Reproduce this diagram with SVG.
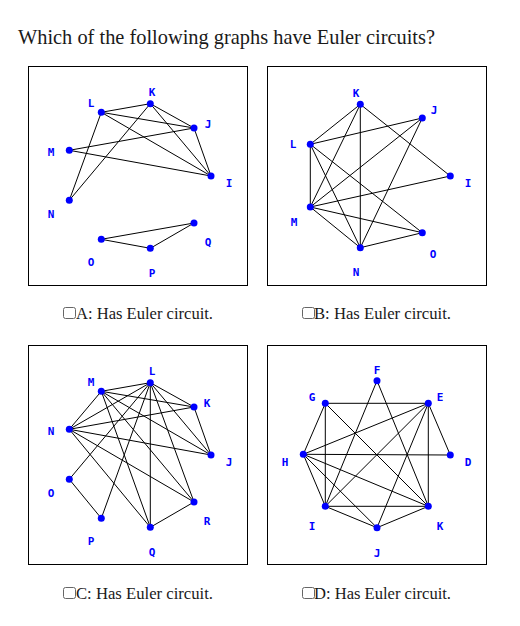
<svg xmlns="http://www.w3.org/2000/svg" width="520" height="626" viewBox="0 0 520 626">
<style>
.bg{fill:#fff}
.frame{fill:none;stroke:#000;stroke-width:1}
.e{stroke:#000;stroke-width:1;fill:none}
.n{fill:#0000ff}
.lb{font-family:"DejaVu Sans Mono",monospace;font-weight:bold;font-size:11px;fill:#0000ff;text-anchor:middle}
.title{font-family:"Liberation Serif",serif;font-size:21px;fill:#1a1a1a}
.cap{font-family:"Liberation Serif",serif;font-size:16px;fill:#1a1a1a}
.cb{fill:#fff;stroke:#666;stroke-width:1}
</style>
<rect class="bg" x="0" y="0" width="520" height="626"/>
<text class="title" x="18" y="44" textLength="417" lengthAdjust="spacingAndGlyphs">Which of the following graphs have Euler circuits?</text>

<rect class="frame" x="28.5" y="66.5" width="219" height="219"/>
<rect class="frame" x="267.5" y="66.5" width="219" height="219"/>
<rect class="frame" x="28.5" y="345.5" width="219" height="219"/>
<rect class="frame" x="267.5" y="345.5" width="219" height="219"/>

<g id="connectors">
<g id="edges-A">
<line class="e" x1="101.3" y1="112.3" x2="150.3" y2="103.7"/>
<line class="e" x1="101.3" y1="112.3" x2="194" y2="128"/>
<line class="e" x1="101.3" y1="112.3" x2="211" y2="176"/>
<line class="e" x1="101.3" y1="112.3" x2="69.3" y2="200.3"/>
<line class="e" x1="150.3" y1="103.7" x2="194" y2="128"/>
<line class="e" x1="150.3" y1="103.7" x2="211" y2="176"/>
<line class="e" x1="150.3" y1="103.7" x2="69.3" y2="200.3"/>
<line class="e" x1="69.3" y1="150.3" x2="194" y2="128"/>
<line class="e" x1="69.3" y1="150.3" x2="211" y2="176"/>
<line class="e" x1="194" y1="128" x2="211" y2="176"/>
<line class="e" x1="101.3" y1="239.3" x2="194" y2="223"/>
<line class="e" x1="101.3" y1="239.3" x2="150.3" y2="248.3"/>
<line class="e" x1="150.3" y1="248.3" x2="194" y2="223"/>
</g>
<g id="edges-B">
<line class="e" x1="360.3" y1="104.3" x2="310.3" y2="144.3"/>
<line class="e" x1="360.3" y1="104.3" x2="310.3" y2="207"/>
<line class="e" x1="360.3" y1="104.3" x2="360.3" y2="247.7"/>
<line class="e" x1="360.3" y1="104.3" x2="450.3" y2="176"/>
<line class="e" x1="422.3" y1="118" x2="310.3" y2="144.3"/>
<line class="e" x1="422.3" y1="118" x2="310.3" y2="207"/>
<line class="e" x1="422.3" y1="118" x2="360.3" y2="247.7"/>
<line class="e" x1="310.3" y1="144.3" x2="310.3" y2="207"/>
<line class="e" x1="310.3" y1="144.3" x2="360.3" y2="247.7"/>
<line class="e" x1="310.3" y1="144.3" x2="422.3" y2="232.7"/>
<line class="e" x1="450.3" y1="176" x2="310.3" y2="207"/>
<line class="e" x1="310.3" y1="207" x2="360.3" y2="247.7"/>
<line class="e" x1="310.3" y1="207" x2="422.3" y2="232.7"/>
<line class="e" x1="360.3" y1="247.7" x2="422.3" y2="232.7"/>
</g>
<g id="edges-C">
<line class="e" x1="150.3" y1="382.7" x2="101.3" y2="391.3"/>
<line class="e" x1="150.3" y1="382.7" x2="194" y2="407"/>
<line class="e" x1="150.3" y1="382.7" x2="211" y2="455"/>
<line class="e" x1="150.3" y1="382.7" x2="194" y2="502"/>
<line class="e" x1="150.3" y1="382.7" x2="150.3" y2="527.3"/>
<line class="e" x1="150.3" y1="382.7" x2="101.3" y2="518.3"/>
<line class="e" x1="150.3" y1="382.7" x2="69.3" y2="429.3"/>
<line class="e" x1="150.3" y1="382.7" x2="69.3" y2="479.3"/>
<line class="e" x1="101.3" y1="391.3" x2="194" y2="407"/>
<line class="e" x1="101.3" y1="391.3" x2="211" y2="455"/>
<line class="e" x1="101.3" y1="391.3" x2="69.3" y2="429.3"/>
<line class="e" x1="101.3" y1="391.3" x2="150.3" y2="527.3"/>
<line class="e" x1="101.3" y1="391.3" x2="194" y2="502"/>
<line class="e" x1="69.3" y1="429.3" x2="194" y2="407"/>
<line class="e" x1="69.3" y1="429.3" x2="211" y2="455"/>
<line class="e" x1="69.3" y1="429.3" x2="194" y2="502"/>
<line class="e" x1="69.3" y1="429.3" x2="150.3" y2="527.3"/>
<line class="e" x1="194" y1="407" x2="211" y2="455"/>
<line class="e" x1="69.3" y1="479.3" x2="101.3" y2="518.3"/>
<line class="e" x1="150.3" y1="527.3" x2="194" y2="502"/>
</g>
<g id="edges-D">
<line class="e" x1="377" y1="380.7" x2="325.3" y2="506.3"/>
<line class="e" x1="377" y1="380.7" x2="428.3" y2="506.3"/>
<line class="e" x1="325.3" y1="403.3" x2="428.3" y2="403.3"/>
<line class="e" x1="325.3" y1="403.3" x2="325.3" y2="506.3"/>
<line class="e" x1="325.3" y1="403.3" x2="303.3" y2="454.3"/>
<line class="e" x1="325.3" y1="403.3" x2="428.3" y2="506.3"/>
<line class="e" x1="428.3" y1="403.3" x2="303.3" y2="454.3"/>
<line class="e" x1="428.3" y1="403.3" x2="450.3" y2="455"/>
<line class="e" x1="428.3" y1="403.3" x2="325.3" y2="506.3"/>
<line class="e" x1="428.3" y1="403.3" x2="377" y2="527.7"/>
<line class="e" x1="428.3" y1="403.3" x2="428.3" y2="506.3"/>
<line class="e" x1="303.3" y1="454.3" x2="450.3" y2="455"/>
<line class="e" x1="303.3" y1="454.3" x2="325.3" y2="506.3"/>
<line class="e" x1="303.3" y1="454.3" x2="428.3" y2="506.3"/>
<line class="e" x1="303.3" y1="454.3" x2="377" y2="527.7"/>
<line class="e" x1="325.3" y1="506.3" x2="428.3" y2="506.3"/>
<line class="e" x1="325.3" y1="506.3" x2="377" y2="527.7"/>
<line class="e" x1="377" y1="527.7" x2="428.3" y2="506.3"/>
</g>
</g>

<g id="graph-A">
<g id="A-K"><circle class="n" cx="150.3" cy="103.7" r="3.5"/><text class="lb" x="152" y="96">K</text></g>
<g id="A-L"><circle class="n" cx="101.3" cy="112.3" r="3.5"/><text class="lb" x="91" y="107">L</text></g>
<g id="A-J"><circle class="n" cx="194" cy="128" r="3.5"/><text class="lb" x="208" y="128">J</text></g>
<g id="A-M"><circle class="n" cx="69.3" cy="150.3" r="3.5"/><text class="lb" x="51" y="156">M</text></g>
<g id="A-I"><circle class="n" cx="211" cy="176" r="3.5"/><text class="lb" x="229" y="187">I</text></g>
<g id="A-N"><circle class="n" cx="69.3" cy="200.3" r="3.5"/><text class="lb" x="51" y="218">N</text></g>
<g id="A-O"><circle class="n" cx="101.3" cy="239.3" r="3.5"/><text class="lb" x="91" y="266">O</text></g>
<g id="A-P"><circle class="n" cx="150.3" cy="248.3" r="3.5"/><text class="lb" x="152" y="277">P</text></g>
<g id="A-Q"><circle class="n" cx="194" cy="223" r="3.5"/><text class="lb" x="208" y="246">Q</text></g>
</g>

<g id="graph-B">
<g id="B-K"><circle class="n" cx="360.3" cy="104.3" r="3.5"/><text class="lb" x="356" y="97">K</text></g>
<g id="B-J"><circle class="n" cx="422.3" cy="118" r="3.5"/><text class="lb" x="434" y="114">J</text></g>
<g id="B-L"><circle class="n" cx="310.3" cy="144.3" r="3.5"/><text class="lb" x="293" y="148">L</text></g>
<g id="B-I"><circle class="n" cx="450.3" cy="176" r="3.5"/><text class="lb" x="468" y="187">I</text></g>
<g id="B-M"><circle class="n" cx="310.3" cy="207" r="3.5"/><text class="lb" x="294" y="226">M</text></g>
<g id="B-O"><circle class="n" cx="422.3" cy="232.7" r="3.5"/><text class="lb" x="433" y="258">O</text></g>
<g id="B-N"><circle class="n" cx="360.3" cy="247.7" r="3.5"/><text class="lb" x="356" y="276">N</text></g>
</g>

<g id="graph-C">
<g id="C-L"><circle class="n" cx="150.3" cy="382.7" r="3.5"/><text class="lb" x="152" y="375">L</text></g>
<g id="C-M"><circle class="n" cx="101.3" cy="391.3" r="3.5"/><text class="lb" x="91" y="386">M</text></g>
<g id="C-K"><circle class="n" cx="194" cy="407" r="3.5"/><text class="lb" x="207" y="407">K</text></g>
<g id="C-N"><circle class="n" cx="69.3" cy="429.3" r="3.5"/><text class="lb" x="51" y="435">N</text></g>
<g id="C-J"><circle class="n" cx="211" cy="455" r="3.5"/><text class="lb" x="229" y="466">J</text></g>
<g id="C-O"><circle class="n" cx="69.3" cy="479.3" r="3.5"/><text class="lb" x="51" y="497">O</text></g>
<g id="C-R"><circle class="n" cx="194" cy="502" r="3.5"/><text class="lb" x="207" y="525">R</text></g>
<g id="C-P"><circle class="n" cx="101.3" cy="518.3" r="3.5"/><text class="lb" x="91" y="545">P</text></g>
<g id="C-Q"><circle class="n" cx="150.3" cy="527.3" r="3.5"/><text class="lb" x="152" y="556">Q</text></g>
</g>

<g id="graph-D">
<g id="D-F"><circle class="n" cx="377" cy="380.7" r="3.5"/><text class="lb" x="377" y="374">F</text></g>
<g id="D-G"><circle class="n" cx="325.3" cy="403.3" r="3.5"/><text class="lb" x="312" y="401">G</text></g>
<g id="D-E"><circle class="n" cx="428.3" cy="403.3" r="3.5"/><text class="lb" x="440" y="401">E</text></g>
<g id="D-H"><circle class="n" cx="303.3" cy="454.3" r="3.5"/><text class="lb" x="285" y="466">H</text></g>
<g id="D-D"><circle class="n" cx="450.3" cy="455" r="3.5"/><text class="lb" x="468" y="466">D</text></g>
<g id="D-I"><circle class="n" cx="325.3" cy="506.3" r="3.5"/><text class="lb" x="312" y="530">I</text></g>
<g id="D-K"><circle class="n" cx="428.3" cy="506.3" r="3.5"/><text class="lb" x="440" y="530">K</text></g>
<g id="D-J"><circle class="n" cx="377" cy="527.7" r="3.5"/><text class="lb" x="377" y="557">J</text></g>
</g>

<g id="captions">
<rect class="cb" x="63.5" y="307.5" width="12" height="11" rx="2"/>
<text class="cap" x="76" y="318.5" textLength="137" lengthAdjust="spacingAndGlyphs">A: Has Euler circuit.</text>
<rect class="cb" x="302.5" y="307.5" width="12" height="11" rx="2"/>
<text class="cap" x="314" y="318.5" textLength="137" lengthAdjust="spacingAndGlyphs">B: Has Euler circuit.</text>
<rect class="cb" x="63.5" y="587.5" width="12" height="11" rx="2"/>
<text class="cap" x="76" y="598.5" textLength="137" lengthAdjust="spacingAndGlyphs">C: Has Euler circuit.</text>
<rect class="cb" x="302.5" y="587.5" width="12" height="11" rx="2"/>
<text class="cap" x="314" y="598.5" textLength="137" lengthAdjust="spacingAndGlyphs">D: Has Euler circuit.</text>
</g>
</svg>
